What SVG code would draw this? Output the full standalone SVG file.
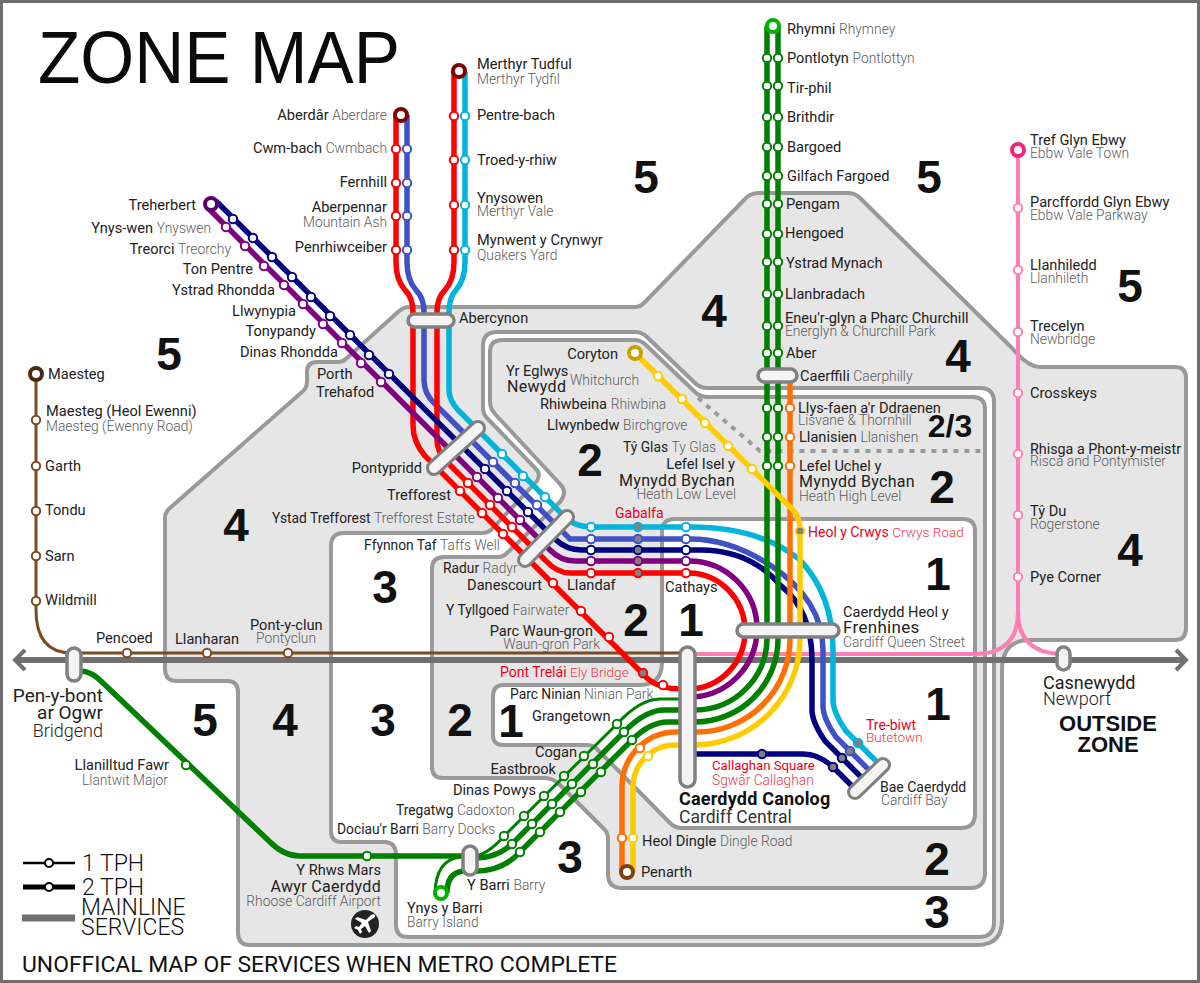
<svg xmlns="http://www.w3.org/2000/svg" width="1200" height="983" viewBox="0 0 1200 983">
<style>
text{font-family:"Roboto","Liberation Sans",sans-serif;font-size:14.6px;fill:#222}
.e{fill:#5c5c5c;font-weight:300;font-size:13.8px}
.a{text-anchor:end}
.m{text-anchor:middle}
.big{font-size:16px;letter-spacing:.3px}
.sm{font-size:13.8px}
.rd{fill:#e8001c;font-size:14px}
.rl{fill:#e8384a;font-weight:300;font-size:13.6px}
.cg{font-size:13.3px}
.z{font-family:"Liberation Sans",sans-serif;font-weight:700;font-size:46px;fill:#111;text-anchor:middle}
.th{font-family:"Roboto",sans-serif;font-weight:300;font-size:23px;fill:#111}
.zone{stroke:#999;stroke-width:4;stroke-linejoin:round}
.l{fill:none;stroke-width:5.5}
.bar{fill:#f4f4f4;stroke:#808080;stroke-width:3.5}
circle.s{r:4.2px;fill:#fff;stroke-width:2px}
circle.x{r:4.2px;fill:#808080;stroke-width:2px}
circle.t{r:6px;fill:#fff;stroke-width:4px}
.R{stroke:#f00}.B{stroke:#3f51c4}.N{stroke:#000080}.P{stroke:#800080}.C{stroke:#00b4dc}.G{stroke:#008000}.O{stroke:#ff7000}.Y{stroke:#fc0}.W{stroke:#7b4a20}.K{stroke:#ff7fb5}
</style>
<rect width="1200" height="983" fill="#fff"/>
<rect x="1.5" y="1.5" width="1197" height="980" fill="none" stroke="#6e6e6e" stroke-width="3"/>
<g id="zones">
<path class="zone" fill="#e6e6e6" d="M165 518Q165 512 170 508L302 392Q307 388 307 382V372Q307 362 317 362H338Q343 362 347 358L398 312Q403 307 410 307H635Q640 307 644 303L744 200Q750 193 758 193H848Q855 193 860 198L1012 348Q1028 367 1040 367H1175Q1186 367 1186 378V628Q1186 640 1175 640H1030Q1002 640 1002 670V920Q1002 945 977 945H250Q238 945 238 933V692Q238 681 227 681H177Q165 681 165 669Z"/>
<path class="zone" fill="#fff" d="M483 346Q483 332 497 332H635Q642 332 647 337L695 383Q700 388 708 388H980Q994 388 994 402V922Q994 937 979 937H408Q396 937 396 925V855Q396 842 384 842H342Q331 842 331 831V546Q331 533 344 533H482Q488 533 492 529L537 481Q541 474 536 469L487 418Q483 414 483 408Z"/>
<path class="zone" fill="#e6e6e6" d="M490 352Q490 340 502 340H635Q641 340 646 345L695 392Q700 397 708 397H973Q985 397 985 409V873Q985 888 970 888H622Q608 888 608 874V838Q608 833 604 829L560 785Q553 778 545 778H443Q432 778 432 767V569Q432 557 444 557H498Q503 557 507 553L560 502Q568 492 560 484L495 414Q490 408 490 402Z"/>
<path class="zone" fill="#fff" d="M662 532Q662 519 675 519H963Q975 519 975 531V814Q975 828 961 828H682Q675 828 670 823L597 749Q593 745 587 745H503Q493 745 493 735V696Q493 685 504 685H640Q662 685 662 662Z"/>
<path fill="none" stroke="#999" stroke-width="4" stroke-dasharray="5 6" d="M698 398L760 451H985"/>
</g>
<g id="zone-numbers">
<text class="z" x="646" y="193">5</text><text class="z" x="929" y="193">5</text><text class="z" x="714" y="327">4</text><text class="z" x="958" y="372">4</text><text class="z" x="1130" y="302">5</text><text class="z" x="169" y="370">5</text><text class="z" x="236" y="541">4</text><text class="z" x="385" y="603">3</text><text class="z" x="590" y="476">2</text><text class="z" x="636" y="636">2</text><text class="z" x="691" y="636">1</text><text class="z" x="383" y="736">3</text><text class="z" x="460" y="736">2</text><text class="z" x="511" y="737">1</text><text class="z" x="205" y="736">5</text><text class="z" x="285" y="736">4</text><text class="z" x="570" y="873">3</text><text class="z" x="937" y="875">2</text><text class="z" x="937" y="928">3</text><text class="z" x="938" y="590">1</text><text class="z" x="938" y="720">1</text><text class="z" x="942" y="503">2</text><text class="z" x="950" y="437" style="font-size:32px">2/3</text><text class="z" x="1130" y="566">4</text>
</g>
<text id="title" x="38" y="83" textLength="362" lengthAdjust="spacingAndGlyphs" style="font-family:'Liberation Sans',sans-serif;font-size:74px;fill:#0a0a0a">ZONE MAP</text>
<text id="subtitle" x="22" y="972" textLength="595" lengthAdjust="spacingAndGlyphs" style="font-family:'Roboto',sans-serif;font-size:22px;font-weight:400;fill:#111">UNOFFICAL MAP OF SERVICES WHEN METRO COMPLETE</text>
<g id="connectors">
<g id="mainline" fill="none" stroke="#707070">
<path stroke-width="6" d="M16 660H1186"/>
<path stroke-width="4" d="M25 650L15 660L25 670M1176 650L1186 660L1176 670"/>
</g>
<path fill="none" stroke="#7b4a20" stroke-width="3" d="M36 374V610Q36 653 72 653H690"/>
<path fill="none" stroke="#ff7fb5" stroke-width="4" d="M690 654H975Q1018 654 1018 612V150M1018 612Q1018 652 1060 654"/>
<path class="l G" d="M82 671Q92 672 102 682L270 842Q284 856 300 856H470"/>
<path class="l R" d="M396 115V262Q396 280 405 290Q413 298 413 312V425Q413 442 425 456L648 679Q660 689 681 689"/>
<path class="l B" d="M407 115V262Q407 280 416 290Q424 298 424 312V380Q424 394 435 404L570 539H690Q730 539 770 565Q823 600 823 650V706Q823 718 836 737L873 774"/>
<path class="l R" d="M454 72V262Q454 280 445 290Q437 298 437 312V440Q437 452 447 462L545 560Q557 573 570 573H688A57 58 0 0 1 745 631A57 58 0 0 1 688 689"/>
<path class="l C" d="M465 72V262Q465 280 456 290Q449 298 449 312V390Q449 400 458 410L565 517Q575 527 592 527H690Q760 527 800 560Q833 595 833 650V700Q833 712 846 731L881 766"/>
<path class="l N" d="M216 201L555 539Q566 550 582 550H700Q750 550 780 585Q812 610 812 660V710Q812 722 825 741L865 781"/>
<path class="l N" d="M695 754H803Q818 754 832 766L856 790"/>
<path class="l P" d="M207 207L550 550Q561 561 575 561H689A68 68 0 0 1 757 629A68 68 0 0 1 689 697"/>
<path class="l G" d="M767 26V638A72 72 0 0 1 695 710H665Q645 710 624 732L512 844Q497 858 476 858"/>
<path class="l G" d="M778 26V639A83 83 0 0 1 695 722H668Q650 722 632 740L520 852Q503 871 476 871H463Q447 873 447 893"/>
<path class="G" fill="none" stroke-width="3" d="M680 699H660Q640 699 617 724L504 836Q487 856 470 857H460Q436 860 435 893"/>
<path class="l O" d="M790 382V639A93 93 0 0 1 697 732H676A54 55 0 0 0 622 787V872"/>
<path class="l Y" d="M635 353L793 510Q800 518 800 530V639A106 106 0 0 1 694 745H675A42 42 0 0 0 633 786V872"/>
</g>
<g id="interchanges">
<rect id="bar-bridgend" class="bar" x="67" y="648" width="14" height="33" rx="7"/>
<rect id="bar-central" class="bar" x="680" y="647" width="15" height="140" rx="7.5"/>
<rect id="bar-queen" class="bar" x="737" y="624" width="102" height="13" rx="6.5"/>
<rect id="bar-abercynon" class="bar" x="408" y="314" width="46" height="13" rx="6.5"/>
<rect id="bar-caerphilly" class="bar" x="758" y="369" width="39" height="13" rx="6.5"/>
<rect id="bar-barry" class="bar" x="463" y="846" width="14" height="29" rx="7"/>
<rect id="bar-newport" class="bar" x="1057" y="647" width="13" height="23" rx="6.5"/>
<g id="bar-pontypridd"><path stroke="#808080" stroke-width="16" stroke-linecap="round" d="M434 468L478 428"/><path stroke="#f4f4f4" stroke-width="10" stroke-linecap="round" d="M434 468L478 428"/></g>
<g id="bar-taffs"><path stroke="#808080" stroke-width="16" stroke-linecap="round" d="M525 560L567 517"/><path stroke="#f4f4f4" stroke-width="10" stroke-linecap="round" d="M525 560L567 517"/></g>
<g id="bar-bay"><path stroke="#808080" stroke-width="16" stroke-linecap="round" d="M855 792L883 765"/><path stroke="#f4f4f4" stroke-width="10" stroke-linecap="round" d="M855 792L883 765"/></g>
</g>
<g id="rhymney-line">
<g id="st-rhymni"><circle class="t" cx="773" cy="26" stroke="#00b400"/><text x="787" y="34">Rhymni <tspan class="e">Rhymney</tspan></text></g>
<g id="st-pontlotyn"><circle class="s G" cx="767" cy="58"/><circle class="s G" cx="778" cy="58"/><text x="787" y="63">Pontlotyn <tspan class="e">Pontlottyn</tspan></text></g>
<g id="st-tirphil"><circle class="s G" cx="767" cy="86"/><circle class="s G" cx="778" cy="86"/><text x="787" y="93">Tir-phil</text></g>
<g id="st-brithdir"><circle class="s G" cx="767" cy="117"/><circle class="s G" cx="778" cy="117"/><text x="787" y="122">Brithdir</text></g>
<g id="st-bargoed"><circle class="s G" cx="767" cy="147"/><circle class="s G" cx="778" cy="147"/><text x="787" y="152">Bargoed</text></g>
<g id="st-gilfach"><circle class="s G" cx="767" cy="176"/><circle class="s G" cx="778" cy="176"/><text x="787" y="181">Gilfach Fargoed</text></g>
<g id="st-pengam"><circle class="s G" cx="767" cy="204"/><circle class="s G" cx="778" cy="204"/><text x="786" y="209">Pengam</text></g>
<g id="st-hengoed"><circle class="s G" cx="767" cy="234"/><circle class="s G" cx="778" cy="234"/><text x="785" y="238">Hengoed</text></g>
<g id="st-ystrad-mynach"><circle class="s G" cx="767" cy="262"/><circle class="s G" cx="778" cy="262"/><text x="786" y="268">Ystrad Mynach</text></g>
<g id="st-llanbradach"><circle class="s G" cx="767" cy="294"/><circle class="s G" cx="778" cy="294"/><text x="785" y="299">Llanbradach</text></g>
<g id="st-energlyn"><circle class="s G" cx="767" cy="326"/><circle class="s G" cx="778" cy="326"/><text x="785" y="323">Eneu'r-glyn a Pharc Churchill</text><text class="e" x="785" y="336">Energlyn &amp; Churchill Park</text></g>
<g id="st-aber"><circle class="s G" cx="767" cy="353"/><circle class="s G" cx="778" cy="353"/><text x="786" y="358">Aber</text></g>
<g id="st-caerffili"><text x="800" y="381">Caerffili <tspan class="e">Caerphilly</tspan></text></g>
<g id="st-lisvane"><circle class="s G" cx="767" cy="408"/><circle class="s G" cx="778" cy="408"/><circle class="s O" cx="790" cy="408"/><text x="798" y="413">Llys-faen a'r Ddraenen</text><text class="e" x="798" y="425">Lisvane &amp; Thornhill</text></g>
<g id="st-llanishen"><circle class="s G" cx="767" cy="437"/><circle class="s G" cx="778" cy="437"/><circle class="s O" cx="790" cy="437"/><text x="799" y="442">Llanisien <tspan class="e">Llanishen</tspan></text></g>
<g id="st-heath-high"><circle class="s G" cx="767" cy="466"/><circle class="s G" cx="778" cy="466"/><circle class="s O" cx="790" cy="466"/><text x="799" y="471">Lefel Uchel y</text><text class="big" x="799" y="487">Mynydd Bychan</text><text class="e" x="799" y="501">Heath High Level</text></g>
<g id="st-crwys"><circle class="x Y" cx="800" cy="531"/><text class="rd" x="808" y="537">Heol y Crwys <tspan class="rl">Crwys Road</tspan></text></g>
</g>
<g id="coryton-line">
<g id="st-coryton"><circle class="t" cx="635" cy="353" stroke="#c8a000"/><text class="a" x="618" y="359">Coryton</text></g>
<g id="st-whitchurch"><circle class="s Y" cx="658" cy="376"/><text x="506" y="376">Yr Eglwys</text><text class="big" x="507" y="392">Newydd</text><text class="e" x="570" y="385">Whitchurch</text></g>
<g id="st-rhiwbina"><circle class="s Y" cx="682" cy="399"/><text x="540" y="409">Rhiwbeina <tspan class="e">Rhiwbina</tspan></text></g>
<g id="st-birchgrove"><circle class="s Y" cx="705" cy="423"/><text x="547" y="430">Llwynbedw <tspan class="e">Birchgrove</tspan></text></g>
<g id="st-ty-glas"><circle class="s Y" cx="728" cy="446"/><text class="sm" x="623" y="452">Tŷ Glas <tspan class="e">Ty Glas</tspan></text></g>
<g id="st-heath-low"><circle class="s Y" cx="752" cy="469"/><text class="a" x="735" y="469">Lefel Isel y</text><text class="big a" x="735" y="486">Mynydd Bychan</text><text class="e a" x="736" y="499">Heath Low Level</text></g>
</g>
<g id="cynon-taff-lines">
<g id="st-aberdare"><circle class="t" cx="401" cy="115" stroke="#800000"/><text class="a" x="387" y="120">Aberdâr <tspan class="e">Aberdare</tspan></text></g>
<g id="st-cwmbach"><circle class="s R" cx="396" cy="149"/><circle class="s B" cx="407" cy="149"/><text class="a" x="387" y="153">Cwm-bach <tspan class="e">Cwmbach</tspan></text></g>
<g id="st-fernhill"><circle class="s R" cx="396" cy="183"/><circle class="s B" cx="407" cy="183"/><text class="a" x="387" y="187">Fernhill</text></g>
<g id="st-mountain-ash"><circle class="s R" cx="396" cy="216"/><circle class="s B" cx="407" cy="216"/><text class="a" x="387" y="212">Aberpennar</text><text class="e a" x="387" y="227">Mountain Ash</text></g>
<g id="st-penrhiwceiber"><circle class="s R" cx="396" cy="250"/><circle class="s B" cx="407" cy="250"/><text class="a" x="387" y="252">Penrhiwceiber</text></g>
<g id="st-merthyr"><circle class="t" cx="459" cy="71" stroke="#800000"/><text x="477" y="69">Merthyr Tudful</text><text class="e" x="477" y="84">Merthyr Tydfil</text></g>
<g id="st-pentrebach"><circle class="s R" cx="454" cy="116"/><circle class="s C" cx="465" cy="116"/><text x="477" y="120">Pentre-bach</text></g>
<g id="st-troedyrhiw"><circle class="s R" cx="454" cy="160"/><circle class="s C" cx="465" cy="160"/><text x="477" y="165">Troed-y-rhiw</text></g>
<g id="st-merthyr-vale"><circle class="s R" cx="454" cy="205"/><circle class="s C" cx="465" cy="205"/><text x="477" y="203">Ynysowen</text><text class="e" x="477" y="216">Merthyr Vale</text></g>
<g id="st-quakers"><circle class="s R" cx="454" cy="250"/><circle class="s C" cx="465" cy="250"/><text x="477" y="245">Mynwent y Crynwyr</text><text class="e" x="477" y="260">Quakers Yard</text></g>
<g id="st-abercynon"><text x="459" y="323">Abercynon</text></g>
</g>
<g id="rhondda-line">
<g id="st-treherbert"><circle class="t" cx="211" cy="204" stroke="#5a0070"/><text class="a" x="196" y="210">Treherbert</text></g>
<g id="st-ynyswen"><circle class="s N" cx="233" cy="219"/><circle class="s P" cx="226" cy="227"/><text class="a" x="211" y="233">Ynys-wen <tspan class="e">Ynyswen</tspan></text></g>
<g id="st-treorchy"><circle class="s N" cx="253" cy="238"/><circle class="s P" cx="245" cy="246"/><text class="a" x="231" y="254">Treorci <tspan class="e">Treorchy</tspan></text></g>
<g id="st-ton-pentre"><circle class="s N" cx="272" cy="257"/><circle class="s P" cx="264" cy="266"/><text class="a" x="253" y="274">Ton Pentre</text></g>
<g id="st-ystrad-rhondda"><circle class="s N" cx="292" cy="277"/><circle class="s P" cx="284" cy="285"/><text class="a" x="275" y="295">Ystrad Rhondda</text></g>
<g id="st-llwynypia"><circle class="s N" cx="311" cy="297"/><circle class="s P" cx="303" cy="304"/><text class="a" x="296" y="316">Llwynypia</text></g>
<g id="st-tonypandy"><circle class="s N" cx="330" cy="316"/><circle class="s P" cx="323" cy="324"/><text class="a" x="316" y="336">Tonypandy</text></g>
<g id="st-dinas"><circle class="s N" cx="350" cy="335"/><circle class="s P" cx="342" cy="343"/><text class="a" x="338" y="357">Dinas Rhondda</text></g>
<g id="st-porth"><circle class="s N" cx="369" cy="355"/><circle class="s P" cx="361" cy="363"/><text x="317" y="379">Porth</text></g>
<g id="st-trehafod"><circle class="s N" cx="389" cy="374"/><circle class="s P" cx="381" cy="382"/><text x="316" y="397">Trehafod</text></g>
<g id="st-pontypridd"><text class="a" x="422" y="473">Pontypridd</text></g>
<g id="st-trefforest"><circle class="s R" cx="460" cy="491"/><circle class="s R" cx="468" cy="483"/><circle class="s P" cx="477" cy="477"/><circle class="s N" cx="485" cy="469"/><circle class="s B" cx="493" cy="462"/><circle class="s C" cx="502" cy="454"/><text class="a" x="451" y="500">Trefforest</text></g>
<g id="st-trefforest-estate"><circle class="s R" cx="482" cy="513"/><circle class="s R" cx="490" cy="505"/><circle class="s P" cx="498" cy="498"/><circle class="s N" cx="507" cy="491"/><circle class="s B" cx="515" cy="483"/><circle class="s C" cx="523" cy="476"/><text class="sm" x="272" y="523">Ystad Trefforest <tspan class="e">Trefforest Estate</tspan></text></g>
<g id="st-taffs-well"><circle class="s R" cx="503" cy="534"/><circle class="s R" cx="512" cy="527"/><circle class="s P" cx="520" cy="520"/><circle class="s N" cx="528" cy="512"/><circle class="s B" cx="537" cy="505"/><circle class="s C" cx="545" cy="497"/><text class="sm" x="364" y="550">Ffynnon Taf <tspan class="e">Taffs Well</tspan></text></g>
<g id="st-radur"><text class="sm" x="443" y="573">Radur <tspan class="e">Radyr</tspan></text></g>
<g id="st-danescourt"><circle class="s R" cx="553" cy="583"/><text class="a" x="542" y="590">Danescourt</text></g>
<g id="st-fairwater"><circle class="s R" cx="581" cy="611"/><text class="sm" x="446" y="615">Y Tyllgoed <tspan class="e">Fairwater</tspan></text></g>
<g id="st-waun-gron"><circle class="s R" cx="609" cy="637"/><text class="a" x="593" y="636">Parc Waun-gron</text><text class="e a" x="600" y="649">Waun-gron Park</text></g>
<g id="st-ely-bridge"><circle class="x R" cx="643" cy="673"/><text class="rd" x="500" y="677">Pont Trelái <tspan class="rl">Ely Bridge</tspan></text></g>
<g id="st-ninian"><circle class="s R" cx="663" cy="685"/><text class="sm" x="510" y="699">Parc Ninian <tspan class="e">Ninian Park</tspan></text></g>
<g id="st-llandaf"><circle class="s C" cx="591" cy="527"/><circle class="s B" cx="591" cy="539"/><circle class="s N" cx="591" cy="550"/><circle class="s P" cx="591" cy="561"/><circle class="s R" cx="591" cy="573"/><text x="567" y="590">Llandaf</text></g>
<g id="st-gabalfa"><circle class="x C" cx="638" cy="527"/><circle class="x B" cx="638" cy="539"/><circle class="x N" cx="638" cy="550"/><circle class="x P" cx="638" cy="561"/><circle class="x R" cx="638" cy="573"/><text class="rd" x="615" y="518">Gabalfa</text></g>
<g id="st-cathays"><circle class="s C" cx="686" cy="527"/><circle class="s B" cx="686" cy="539"/><circle class="s N" cx="686" cy="550"/><circle class="s P" cx="686" cy="561"/><circle class="s R" cx="686" cy="573"/><text x="665" y="592">Cathays</text></g>
</g>
<g id="vale-lines">
<g id="st-grangetown"><circle class="s G" cx="617" cy="724"/><circle class="s G" cx="624" cy="732"/><circle class="s G" cx="632" cy="740"/><circle class="s O" cx="640" cy="748"/><circle class="s Y" cx="648" cy="756"/><text x="532" y="721">Grangetown</text></g>
<g id="st-cogan"><circle class="s G" cx="584" cy="756"/><circle class="s G" cx="593" cy="764"/><circle class="s G" cx="601" cy="772"/><text class="a" x="577" y="757">Cogan</text></g>
<g id="st-eastbrook"><circle class="s G" cx="564" cy="776"/><circle class="s G" cx="572" cy="784"/><circle class="s G" cx="581" cy="792"/><text class="a" x="556" y="774">Eastbrook</text></g>
<g id="st-dinas-powys"><circle class="s G" cx="544" cy="796"/><circle class="s G" cx="552" cy="804"/><circle class="s G" cx="560" cy="812"/><text class="a" x="536" y="795">Dinas Powys</text></g>
<g id="st-cadoxton"><circle class="s G" cx="524" cy="816"/><circle class="s G" cx="532" cy="824"/><circle class="s G" cx="540" cy="832"/><text class="sm" x="396" y="815">Tregatwg <tspan class="e">Cadoxton</tspan></text></g>
<g id="st-barry-docks"><circle class="s G" cx="504" cy="836"/><circle class="s G" cx="512" cy="844"/><circle class="s G" cx="520" cy="852"/><text class="sm" x="337" y="834">Dociau'r Barri <tspan class="e">Barry Docks</tspan></text></g>
<g id="st-barry"><text x="467" y="890">Y Barri <tspan class="e">Barry</tspan></text></g>
<g id="st-barry-island"><circle class="t" cx="441" cy="893" stroke="#00b400"/><text x="407" y="913">Ynys y Barri</text><text class="e" x="407" y="927">Barry Island</text></g>
<g id="st-dingle"><circle class="s O" cx="622" cy="838"/><circle class="s Y" cx="633" cy="838"/><text x="642" y="846">Heol Dingle <tspan class="e">Dingle Road</tspan></text></g>
<g id="st-penarth"><circle class="t" cx="627" cy="872" stroke="#80400f"/><text x="641" y="877">Penarth</text></g>
<g id="st-llantwit"><circle class="s G" cx="186" cy="765"/><text class="a" x="169" y="770">Llanilltud Fawr</text><text class="e a" x="168" y="785">Llantwit Major</text></g>
<g id="st-rhoose"><circle class="s G" cx="367" cy="856"/><text class="a" x="381" y="875">Y Rhws Mars</text><text class="big a" x="381" y="892">Awyr Caerdydd</text><text class="e a" x="381" y="906">Rhoose Cardiff Airport</text><g id="airport-icon"><circle cx="365" cy="924" r="14" fill="#222"/><path fill="#fff" d="M375 915Q372 913 369 917L366 920L357 917L355 919L362 923L359 927L356 926L354 928L358 930L360 934L362 932L361 929L365 926L369 933L371 931L368 922L372 919Q376 917 375 915Z"/></g></g>
</g>
<g id="central-stations">
<g id="st-central"><text x="679" y="805" style="font-size:18px;font-weight:700;fill:#111;letter-spacing:.2px">Caerdydd Canolog</text><text x="679" y="823" style="font-size:17.5px;fill:#333">Cardiff Central</text></g>
<g id="st-queen-street"><text x="843" y="617">Caerdydd Heol y</text><text class="big" x="843" y="633" style="font-size:17px">Frenhines</text><text class="e" x="843" y="647">Cardiff Queen Street</text></g>
<g id="st-callaghan"><circle class="x N" cx="762" cy="754"/><text class="rd cg" x="712" y="770" style="font-size:13.2px">Callaghan Square</text><text class="rl cg" x="712" y="785" style="font-size:13.8px">Sgwâr Callaghan</text></g>
<g id="st-butetown"><circle class="x N" cx="833" cy="767"/><circle class="x N" cx="842" cy="758"/><circle class="x B" cx="850" cy="751"/><circle class="x C" cx="858" cy="743"/><text class="rd" x="866" y="730">Tre-biwt</text><text class="rl" x="866" y="742">Butetown</text></g>
<g id="st-cardiff-bay"><text x="880" y="792" style="font-size:14px">Bae Caerdydd</text><text class="e" x="881" y="805">Cardiff Bay</text></g>
</g>
<g id="ebbw-line">
<g id="st-ebbw-town"><circle class="t" cx="1018" cy="150" stroke="#f0267a"/><text x="1030" y="145">Tref Glyn Ebwy</text><text class="e" x="1030" y="158">Ebbw Vale Town</text></g>
<g id="st-ebbw-parkway"><circle class="s K" cx="1018" cy="208"/><text x="1030" y="207">Parcffordd Glyn Ebwy</text><text class="e" x="1030" y="220">Ebbw Vale Parkway</text></g>
<g id="st-llanhiledd"><circle class="s K" cx="1018" cy="270"/><text x="1030" y="270">Llanhiledd</text><text class="e" x="1030" y="283">Llanhileth</text></g>
<g id="st-newbridge"><circle class="s K" cx="1018" cy="332"/><text x="1030" y="331">Trecelyn</text><text class="e" x="1030" y="344">Newbridge</text></g>
<g id="st-crosskeys"><circle class="s K" cx="1018" cy="393"/><text x="1030" y="398">Crosskeys</text></g>
<g id="st-risca"><circle class="s K" cx="1018" cy="454"/><text x="1030" y="454" style="font-size:14.3px">Rhisga a Phont-y-meistr</text><text class="e" x="1030" y="466">Risca and Pontymister</text></g>
<g id="st-rogerstone"><circle class="s K" cx="1018" cy="515"/><text x="1030" y="516">Tŷ Du</text><text class="e" x="1030" y="529">Rogerstone</text></g>
<g id="st-pye-corner"><circle class="s K" cx="1018" cy="577"/><text x="1030" y="582">Pye Corner</text></g>
<g id="st-newport"><text x="1043" y="689" style="font-size:18px">Casnewydd</text><text x="1043" y="705" style="font-size:18px;font-weight:300">Newport</text></g>
</g>
<g id="maesteg-line">
<g id="st-maesteg"><circle class="t" cx="36" cy="374" stroke="#4b2a10"/><text x="48" y="379">Maesteg</text></g>
<g id="st-ewenny"><circle class="s W" cx="36" cy="420"/><text x="46" y="416">Maesteg (Heol Ewenni)</text><text class="e" x="46" y="431">Maesteg (Ewenny Road)</text></g>
<g id="st-garth"><circle class="s W" cx="36" cy="466"/><text x="45" y="471">Garth</text></g>
<g id="st-tondu"><circle class="s W" cx="36" cy="511"/><text x="45" y="515">Tondu</text></g>
<g id="st-sarn"><circle class="s W" cx="36" cy="556"/><text x="45" y="561">Sarn</text></g>
<g id="st-wildmill"><circle class="s W" cx="36" cy="601"/><text x="45" y="605">Wildmill</text></g>
<g id="st-pencoed"><circle class="s W" cx="127" cy="653"/><text x="96" y="643">Pencoed</text></g>
<g id="st-llanharan"><circle class="s W" cx="207" cy="653"/><text x="175" y="644">Llanharan</text></g>
<g id="st-pontyclun"><circle class="s W" cx="288" cy="653"/><text x="250" y="630">Pont-y-clun</text><text class="e" x="256" y="643">Pontyclun</text></g>
<g id="st-bridgend"><text class="a" x="103" y="702" style="font-size:19px">Pen-y-bont</text><text class="a" x="103" y="719" style="font-size:19px">ar Ogwr</text><text class="a" x="103" y="737" style="font-size:18px;font-weight:300">Bridgend</text></g>
</g>
<text id="outside-zone" class="m" style="font-family:'Liberation Sans',sans-serif;font-weight:700;font-size:22px;fill:#111"><tspan x="1108" y="731">OUTSIDE</tspan><tspan x="1108" y="752">ZONE</tspan></text>
<g id="legend">
<path stroke="#000" stroke-width="2.5" d="M23 863H75"/><circle cx="49" cy="863" r="4" fill="#fff" stroke="#000" stroke-width="2"/>
<path stroke="#000" stroke-width="5" d="M23 887H75"/><circle cx="49" cy="887" r="4" fill="#fff" stroke="#000" stroke-width="2"/>
<path stroke="#707070" stroke-width="7" d="M22 918H75"/>
<text class="th" x="82" y="871">1 TPH</text><text class="th" x="82" y="895">2 TPH</text><text class="th" x="81" y="915">MAINLINE</text><text class="th" x="81" y="935">SERVICES</text>
</g>
</svg>
